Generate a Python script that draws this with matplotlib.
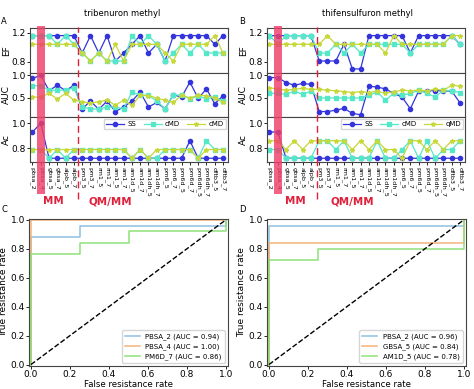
import matplotlib
matplotlib.use("Agg")
import matplotlib.pyplot as plt
from matplotlib.patches import Rectangle
from matplotlib.lines import Line2D
from matplotlib.transforms import blended_transform_factory

categories = ["pbsa_2", "pbsa_4", "gbsa_5", "gbsa_7", "alpb_5", "alpb_7",
              "pm3_5", "pm3_7", "rm1_5", "rm1_7", "am1_5", "am1_7",
              "am1d_5", "am1d_7", "am1dh_5", "am1dh_7", "pm6_5", "pm6_7",
              "pm6d_5", "pm6d_7", "pm6dh_5", "pm6dh_7", "dftb3_5", "dftb3_7"]

# ---- tribenuron methyl ----
ef_ss_L = [1.16, 1.16, 1.16, 1.16, 1.16, 1.16, 0.92, 1.16, 0.92, 1.16, 0.81, 0.92,
           1.04, 1.16, 0.92, 1.04, 0.81, 1.16, 1.16, 1.16, 1.16, 1.16, 1.04, 1.16]
ef_cmd_L = [1.16, 1.16, 1.16, 1.04, 1.16, 1.04, 0.92, 0.81, 0.92, 0.81, 0.81, 0.81,
            1.16, 1.04, 1.16, 1.04, 0.81, 0.92, 1.04, 0.92, 1.04, 0.92, 0.92, 0.92]
ef_qmd_L = [1.04, 1.04, 1.04, 1.04, 1.04, 1.04, 0.92, 0.81, 0.92, 0.81, 1.04, 0.81,
            1.04, 1.04, 1.04, 1.04, 0.92, 0.81, 1.04, 1.04, 1.04, 1.04, 1.16, 0.92]
auc_ss_L = [0.93, 1.00, 0.66, 0.78, 0.66, 0.78, 0.26, 0.43, 0.25, 0.43, 0.20, 0.30,
            0.43, 0.63, 0.30, 0.40, 0.26, 0.57, 0.52, 0.85, 0.49, 0.70, 0.37, 0.55]
auc_cmd_L = [0.77, 0.77, 0.67, 0.67, 0.67, 0.72, 0.30, 0.26, 0.25, 0.30, 0.30, 0.26,
             0.63, 0.56, 0.56, 0.43, 0.26, 0.56, 0.57, 0.48, 0.55, 0.48, 0.52, 0.43]
auc_qmd_L = [0.52, 0.52, 0.60, 0.48, 0.60, 0.45, 0.42, 0.38, 0.42, 0.45, 0.34, 0.45,
             0.34, 0.56, 0.55, 0.50, 0.45, 0.40, 0.56, 0.50, 0.56, 0.55, 0.50, 0.40]
ac_ss_L = [0.93, 1.00, 0.72, 0.72, 0.72, 0.72, 0.72, 0.72, 0.72, 0.72, 0.72, 0.72,
           0.72, 0.72, 0.72, 0.72, 0.72, 0.72, 0.72, 0.86, 0.72, 0.72, 0.72, 0.72]
ac_cmd_L = [0.79, 0.79, 0.72, 0.79, 0.72, 0.79, 0.79, 0.79, 0.79, 0.79, 0.79, 0.79,
            0.72, 0.79, 0.72, 0.72, 0.79, 0.79, 0.79, 0.79, 0.72, 0.86, 0.79, 0.79]
ac_qmd_L = [0.79, 0.79, 0.79, 0.79, 0.79, 0.79, 0.79, 0.79, 0.79, 0.79, 0.79, 0.79,
            0.72, 0.79, 0.72, 0.79, 0.79, 0.79, 0.79, 0.79, 0.72, 0.79, 0.79, 0.79]

# ---- thifensulfuron methyl ----
ef_ss_R = [1.16, 1.16, 1.16, 1.16, 1.16, 1.16, 0.81, 0.81, 0.81, 1.04, 0.70, 0.70,
           1.16, 1.16, 1.16, 1.16, 1.16, 0.92, 1.16, 1.16, 1.16, 1.16, 1.16, 1.04]
ef_cmd_R = [1.16, 1.04, 1.16, 1.16, 1.16, 1.16, 0.92, 0.92, 1.04, 0.92, 1.04, 0.92,
            1.04, 1.04, 1.04, 1.04, 1.04, 0.92, 1.04, 1.04, 1.04, 1.04, 1.16, 1.04]
ef_qmd_R = [1.04, 1.04, 1.04, 1.04, 1.04, 1.04, 1.04, 1.16, 1.04, 1.04, 1.04, 1.04,
            1.04, 1.04, 0.92, 1.16, 1.04, 1.04, 1.04, 1.04, 1.04, 1.04, 1.16, 1.16]
auc_ss_R = [0.95, 0.95, 0.84, 0.78, 0.82, 0.80, 0.20, 0.20, 0.23, 0.27, 0.16, 0.13,
            0.76, 0.74, 0.70, 0.60, 0.52, 0.26, 0.65, 0.66, 0.66, 0.66, 0.65, 0.39]
auc_cmd_R = [0.60, 0.60, 0.58, 0.65, 0.58, 0.65, 0.50, 0.50, 0.50, 0.50, 0.50, 0.50,
             0.56, 0.63, 0.45, 0.60, 0.56, 0.60, 0.67, 0.60, 0.52, 0.67, 0.66, 0.62]
auc_qmd_R = [0.72, 0.70, 0.67, 0.69, 0.71, 0.69, 0.69, 0.67, 0.66, 0.64, 0.62, 0.64,
             0.62, 0.65, 0.60, 0.64, 0.67, 0.66, 0.67, 0.66, 0.69, 0.67, 0.78, 0.76]
ac_ss_R = [0.93, 0.93, 0.72, 0.72, 0.72, 0.72, 0.72, 0.72, 0.72, 0.72, 0.72, 0.72,
           0.72, 0.72, 0.72, 0.72, 0.72, 0.72, 0.72, 0.72, 0.72, 0.72, 0.72, 0.72]
ac_cmd_R = [0.79, 0.79, 0.72, 0.72, 0.72, 0.72, 0.86, 0.86, 0.79, 0.86, 0.72, 0.72,
            0.72, 0.86, 0.72, 0.72, 0.79, 0.86, 0.72, 0.86, 0.72, 0.79, 0.79, 0.86]
ac_qmd_R = [0.86, 0.86, 0.79, 0.86, 0.79, 0.86, 0.86, 0.86, 0.86, 0.86, 0.79, 0.86,
            0.79, 0.86, 0.79, 0.79, 0.72, 0.86, 0.86, 0.79, 0.86, 0.79, 0.86, 0.86]

# ---- ROC curves ----
roc_L = [("PBSA_2 (AUC = 0.94)", [0, 0, 0.25, 0.25, 1, 1], [0, 0.88, 0.88, 0.96, 0.96, 1.0]),
         ("PBSA_4 (AUC = 1.00)", [0, 0, 1], [0, 1.0, 1.0]),
         ("PM6D_7 (AUC = 0.86)", [0, 0, 0.25, 0.25, 0.5, 0.5, 1, 1],
          [0, 0.76, 0.76, 0.84, 0.84, 0.92, 0.92, 1.0])]
roc_R = [("PBSA_2 (AUC = 0.96)", [0, 0, 1, 1], [0, 0.96, 0.96, 1.0]),
         ("GBSA_5 (AUC = 0.84)", [0, 0, 1, 1], [0, 0.84, 0.84, 1.0]),
         ("AM1D_5 (AUC = 0.78)", [0, 0, 0.25, 0.25, 1, 1], [0, 0.72, 0.72, 0.80, 0.80, 1.0])]
roc_colors = ["#8ec1e0", "#f5b27a", "#8fe07a"]

series_labels_L = ["SS", "cMD", "cMD"]
series_labels_R = ["SS", "cMD", "qMD"]
col_ss, col_cmd, col_qmd = "#3434dc", "#55e8c8", "#c6d83a"
band_col = "#f0406a"
red = "#e0203a"

W, H = 474, 389
fig = plt.figure(figsize=(W / 100, H / 100), dpi=100)


def fx(px):
    return px / W


def fy(py):
    return 1 - py / H


def top_panels(x0, data, labels, divider, title, title_x, letter, letter_x, mm_x, qm_x):
    efs, aucs, acs = data
    axw = fx(198)
    ax_ef = fig.add_axes([fx(x0), fy(73), axw, 45 / H])
    ax_auc = fig.add_axes([fx(x0), fy(117), axw, 44 / H])
    ax_ac = fig.add_axes([fx(x0), fy(162), axw, 45 / H])
    xs = list(range(len(categories)))
    for ax, (ss, cmd, qmd), yl, yt, ylab in [
            (ax_ef, efs, (0.644, 1.265), [0.8, 1.2], "EF"),
            (ax_auc, aucs, (0.08, 1.05), [0.5, 1.0], "AUC"),
            (ax_ac, acs, (0.69, 1.05), [0.8, 1.0], "Ac")]:
        ax.plot(xs, ss, "-o", color=col_ss, ms=3.0, lw=0.9, label=labels[0])
        ax.plot(xs, cmd, "-s", color=col_cmd, ms=3.0, lw=0.9, label=labels[1])
        ax.plot(xs, qmd, "-*", color=col_qmd, ms=3.2, lw=0.9, label=labels[2])
        ax.set_xlim(-0.3, 23.6)
        ax.set_ylim(*yl)
        ax.set_yticks(yt)
        ax.set_ylabel(ylab, fontsize=6.5)
        ax.yaxis.set_label_coords(-19 / 198, 0.5)
        ax.tick_params(axis="y", labelsize=6.5, length=2, width=0.6, pad=0.8)
        ax.tick_params(axis="x", length=2.5, width=0.6, pad=1)
        ax.set_xticks(xs)
        for s in ax.spines.values():
            s.set_color("#444444")
            s.set_linewidth(0.8)
        if ax is not ax_ac:
            ax.set_xticklabels([])
    ax_ac.set_xticklabels(categories, rotation=-90, fontsize=4.6)
    ax_ac.legend(loc="upper right", ncol=3, fontsize=5, frameon=True,
                 handlelength=2.6, columnspacing=1.0, borderpad=0.3,
                 handletextpad=0.5, borderaxespad=0.3, fancybox=False,
                 edgecolor="#cccccc")
    # highlight band and divider, extending below the axis
    tr = blended_transform_factory(ax_ac.transData, fig.transFigure)
    fig.patches.append(Rectangle((0.5, fy(194)), 1.0, fy(26) - fy(194), transform=tr,
                                 facecolor=band_col, edgecolor="none", alpha=0.82,
                                 zorder=5))
    fig.lines.append(Line2D([divider, divider], [fy(199), fy(27)], transform=tr,
                            color=red, lw=1.0, ls=(0, (5, 3)), zorder=6))
    fig.text(fx(mm_x), fy(201), "MM", color=red, fontsize=7.5, fontweight="bold",
             ha="center", va="center")
    fig.text(fx(qm_x), fy(201), "QM/MM", color=red, fontsize=7.5, fontweight="bold",
             ha="center", va="center")
    fig.text(fx(title_x), fy(14), title, fontsize=6, ha="center", va="center")
    fig.text(fx(letter_x), fy(22), letter, fontsize=6, ha="left", va="center")


top_panels(30, [(ef_ss_L, ef_cmd_L, ef_qmd_L), (auc_ss_L, auc_cmd_L, auc_qmd_L),
                (ac_ss_L, ac_cmd_L, ac_qmd_L)], series_labels_L, 5.5,
           "tribenuron methyl", 122, "A", 1, 53, 110)
top_panels(267, [(ef_ss_R, ef_cmd_R, ef_qmd_R), (auc_ss_R, auc_cmd_R, auc_qmd_R),
                 (ac_ss_R, ac_cmd_R, ac_qmd_R)], series_labels_R, 5.7,
           "thifensulfuron methyl", 368, "B", 239, 295, 352)


def roc_panel(x0, curves, letter, letter_x):
    ax = fig.add_axes([fx(x0), fy(366), fx(199), 147 / H])
    for (lab, fpr, tpr), c in zip(curves, roc_colors):
        ax.plot(fpr, tpr, color=c, lw=1.1, label=lab)
    ax.plot([0, 1], [0, 1], "k--", lw=1.0)
    ax.set_xlim(-0.01, 1.01)
    ax.set_ylim(-0.01, 1.005)
    ax.set_xticks([0, 0.2, 0.4, 0.6, 0.8, 1.0])
    ax.set_yticks([0, 0.2, 0.4, 0.6, 0.8, 1.0])
    ax.tick_params(labelsize=6.5, length=2, width=0.6, pad=0.8)
    ax.set_xlabel("False resistance rate", fontsize=6.2, labelpad=0.5)
    ax.set_ylabel("True resistance rate", fontsize=6.5)
    ax.yaxis.set_label_coords(-20.5 / 199, 0.5)
    for s in ax.spines.values():
        s.set_color("#444444")
        s.set_linewidth(0.8)
    ax.legend(loc="lower right", fontsize=5, handlelength=2.2, borderpad=0.4,
              labelspacing=0.45, fancybox=True, edgecolor="#cccccc")
    fig.text(fx(letter_x), fy(210), letter, fontsize=6, ha="left", va="center")


roc_panel(29, roc_L, "C", 1)
roc_panel(267, roc_R, "D", 239)

fig.savefig("out.png", dpi=100)
